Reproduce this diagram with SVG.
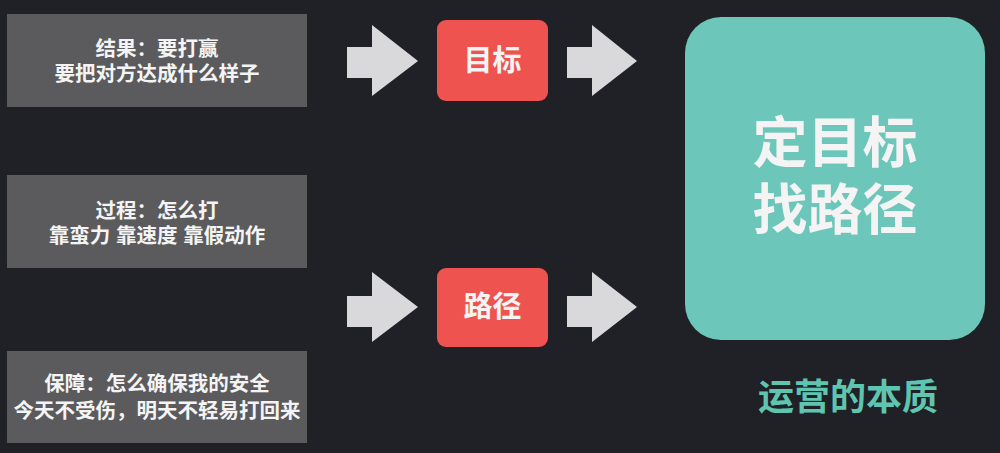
<svg xmlns="http://www.w3.org/2000/svg" width="1000" height="453" viewBox="0 0 1000 453">
  <style>
    .box { fill: #5b5b5d; }
    .t { font-family: "Liberation Sans", "Noto Sans CJK SC", sans-serif; font-weight: bold; fill: #f4f4f4; text-anchor: middle; dominant-baseline: central; }
    .small { font-size: 20.5px; }
    .red { fill: #ef5350; }
    .arrow { fill: #d9d9dc; }
  </style>
  <rect width="1000" height="453" fill="#202127"/>
  <g id="node-result">
    <rect class="box" x="7" y="14" width="300" height="93"/>
    <text class="t small" x="157" y="48">结果：要打赢</text>
    <text class="t small" x="157" y="73">要把对方达成什么样子</text>
  </g>
  <g id="node-process">
    <rect class="box" x="7" y="175" width="300" height="93"/>
    <text class="t small" x="157" y="210">过程：怎么打</text>
    <text class="t small" x="157" y="235">靠蛮力 靠速度 靠假动作</text>
  </g>
  <g id="node-guarantee">
    <rect class="box" x="7" y="351" width="300" height="92"/>
    <text class="t small" x="157" y="383">保障：怎么确保我的安全</text>
    <text class="t small" x="157" y="410">今天不受伤，明天不轻易打回来</text>
  </g>
  <g id="node-goal">
    <rect class="red" x="437" y="20" width="111" height="81" rx="9"/>
    <text class="t" x="492.5" y="61" font-size="29">目标</text>
  </g>
  <g id="node-path">
    <rect class="red" x="437" y="268" width="111" height="79" rx="9"/>
    <text class="t" x="492.5" y="307" font-size="29">路径</text>
  </g>
  <g id="node-essence">
    <rect x="685" y="17" width="300" height="323" rx="36" fill="#6cc7ba"/>
    <text class="t" x="835" y="143" font-size="55">定目标</text>
    <text class="t" x="835" y="210" font-size="55">找路径</text>
  </g>
  <g id="label-essence">
    <text class="t" x="848" y="397" font-size="36" style="fill:#5fc4b0">运营的本质</text>
  </g>
  <g id="connectors">
    <polygon class="arrow" points="347,47 372,47 372,25 418,61 372,96 372,78 347,78"/>
    <polygon class="arrow" points="567,47 592,47 592,25 637,61 592,96 592,78 567,78"/>
    <polygon class="arrow" points="347,296 372,296 372,272 418,307 372,342 372,327 347,327"/>
    <polygon class="arrow" points="567,296 592,296 592,272 637,307 592,342 592,327 567,327"/>
  </g>
</svg>
